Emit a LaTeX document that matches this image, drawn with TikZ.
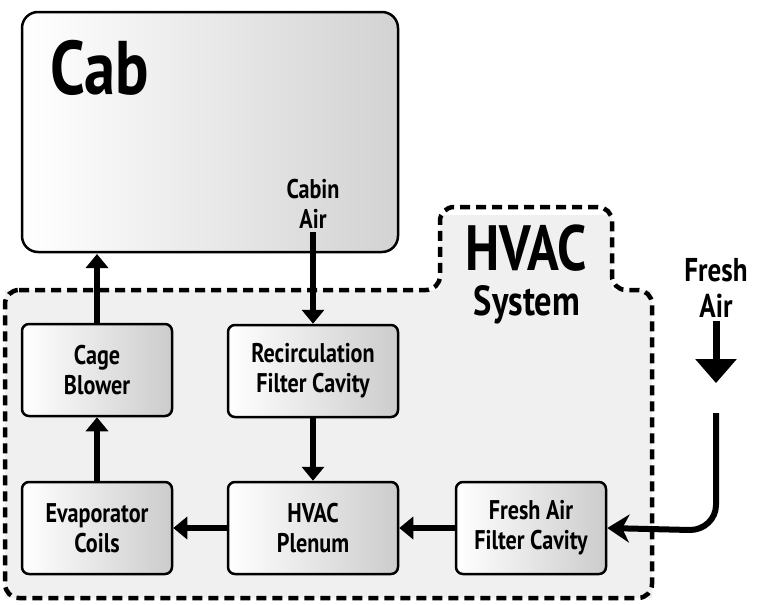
\documentclass[tikz,border=0pt]{standalone}
\usepackage{fontspec}
\setmainfont{PT Sans}[FakeStretch=0.82]
\usetikzlibrary{arrows.meta,shadings}
\begin{document}
\begin{tikzpicture}[x=1pt,y=-1pt,
 box/.style={draw=black,line width=2.5pt,rounded corners=7pt,left color=white,right color=gray!40,align=center,font=\bfseries\fontsize{27}{30}\selectfont,minimum width=150pt,minimum height=92pt,inner sep=0pt},
 arr/.style={line width=6pt,-{Triangle[length=14pt,width=22pt]}},
 lbl/.style={align=center,font=\bfseries\fontsize{27}{30}\selectfont}]
\useasboundingbox (0,0) rectangle (766,605);
\shade[left color=white,right color=gray!35,rounded corners=16pt,draw=black,line width=2.5pt] (22,12) rectangle (398,252);
\node[font=\bfseries\fontsize{76}{80}\selectfont] (cab) at (100,68) {Cab};
\coordinate (cabbot) at (97,254);
\node[lbl] (cabin) at (313,204) {Cabin\\Air};
\fill[gray!12] (5,290) -- (440,290) -- (440,215) -- (612,215) -- (612,290) -- (652,290) -- (652,598) -- (5,598) -- cycle;
\draw[line width=4.5pt,dash pattern=on 10pt off 6pt,rounded corners=14pt] (5,290) -- (440,290) -- (440,207) -- (612,207) -- (612,290) -- (652,290) -- (652,598) -- (5,598) -- cycle;
\node[font=\bfseries\fontsize{64}{66}\selectfont] (hvac) at (526,248) {HVAC};
\node[font=\bfseries\fontsize{42}{44}\selectfont] (sys) at (527,305) {System};
\node[box,minimum width=150pt] (cage) at (97,370) {Cage\\Blower};
\node[box,minimum width=170pt] (recirc) at (313,371) {Recirculation\\Filter Cavity};
\node[box] (evap) at (97,528) {Evaporator\\Coils};
\node[box,minimum width=170pt] (plen) at (313,528) {HVAC\\Plenum};
\node[box] (fresh) at (531,528) {Fresh Air\\Filter Cavity};
\node[lbl,font=\bfseries\fontsize{33}{36}\selectfont] (fa) at (716,288) {Fresh\\Air};
\coordinate (fa2) at (716,413);
\draw[arr] (cage.north) -- (cabbot);
\draw[arr] (cabin.south) -- (recirc.north);
\draw[arr] (recirc.south) -- (plen.north);
\draw[arr] (evap.north) -- (cage.south);
\draw[arr] (plen.west) -- (evap.east);
\draw[arr] (fresh.west) -- (plen.east);
\draw[line width=7pt,-{Triangle[length=24pt,width=40pt]}] (fa.south) -- ++(0,62);
\draw[line width=6pt,-{Stealth[length=22pt,width=28pt,inset=7pt]}] (fa2) -- (716,505) to[out=-90,in=0] (690,530) -- (fresh.east);
\end{tikzpicture}
\end{document}
